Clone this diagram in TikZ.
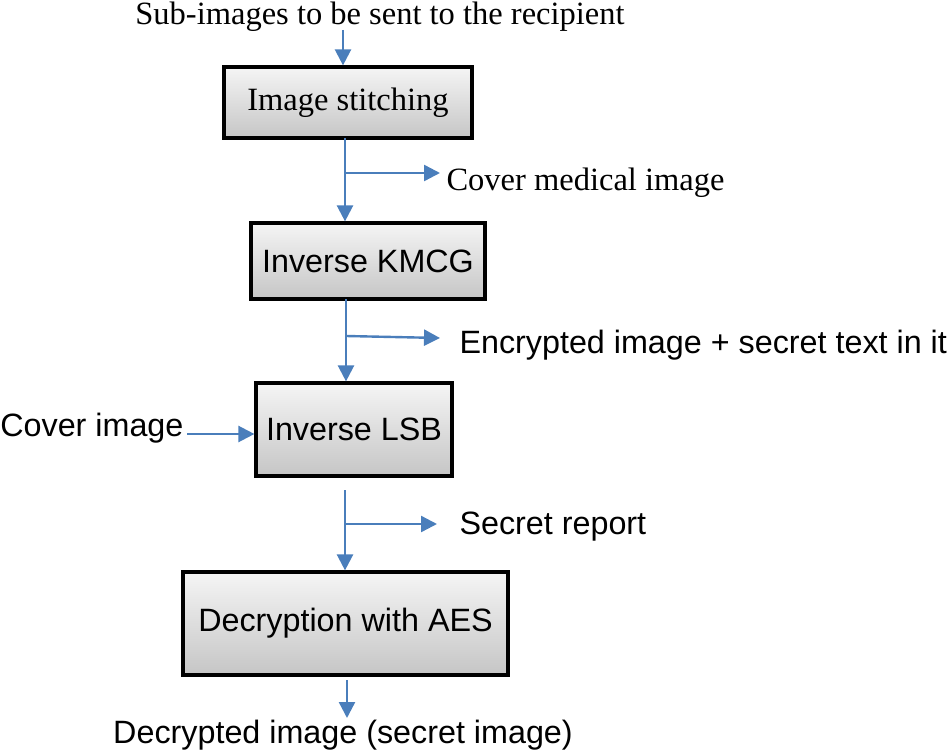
\documentclass[tikz,border=0pt]{standalone}
\usepackage{fontspec}
\setmainfont{Liberation Serif}
\newfontfamily\sansf{Liberation Sans}
\usetikzlibrary{arrows.meta}
\begin{document}
\begin{tikzpicture}[x=1pt,y=-1pt,
  box/.style={draw=black,line width=3.2pt,top color=gray!8,bottom color=gray!45,inner sep=0pt},
  arr/.style={draw={rgb,255:red,74;green,126;blue,187},line width=2.4pt,-{Triangle[length=16pt,width=16pt]}},
  sl/.style={font=\fontsize{32.5}{36}\selectfont},
  ss/.style={font=\sansf\fontsize{32.3}{36}\selectfont}]
\useasboundingbox (0,0) rectangle (950,754);
\node[box,minimum width=248pt,minimum height=71pt,font=\fontsize{32.5}{36}\selectfont] (b1) at (348,102.5) {Image stitching};
\node[box,minimum width=234pt,minimum height=76pt,ss] (b2) at (368,261) {Inverse KMCG};
\node[box,minimum width=196pt,minimum height=93pt,ss] (b3) at (354,429.5) {Inverse LSB};
\node[box,minimum width=325pt,minimum height=103pt,ss] (b4) at (345.5,623.5) {Decryption with AES};
\node[sl] (t0) at (380,17) {Sub-images to be sent to the recipient};
\node[sl,anchor=west] (t1) at (443,183) {Cover medical image};
\node[ss,anchor=west] (t2) at (456,345) {Encrypted image + secret text in it};
\node[ss,anchor=east] (t3) at (187,428) {Cover image};
\node[ss,anchor=west] (t4) at (456,527) {Secret report};
\node[ss] (t5) at (343,735) {Decrypted image (secret image)};
\coordinate (a0) at (343,30);
\draw[arr] (a0) -- (b1.north -| a0);
\coordinate (a1) at (345,138);
\draw[arr] (a1) -- (b2.north -| a1);
\coordinate (j1) at (345,173);
\draw[arr] (j1) -- (440,173);
\coordinate (a2) at (346,299);
\draw[arr] (a2) -- (b3.north -| a2);
\coordinate (j2) at (346,336);
\draw[arr] (j2) -- (440,338);
\coordinate (c3) at (187,434);
\draw[arr] (c3) -- (b3.west |- c3);
\coordinate (a3) at (345,490);
\draw[arr] (a3) -- (b4.north -| a3);
\coordinate (j3) at (345,524);
\draw[arr] (j3) -- (437,524);
\coordinate (a4) at (347,680);
\draw[arr] (a4) -- (347,718);
\end{tikzpicture}
\end{document}
